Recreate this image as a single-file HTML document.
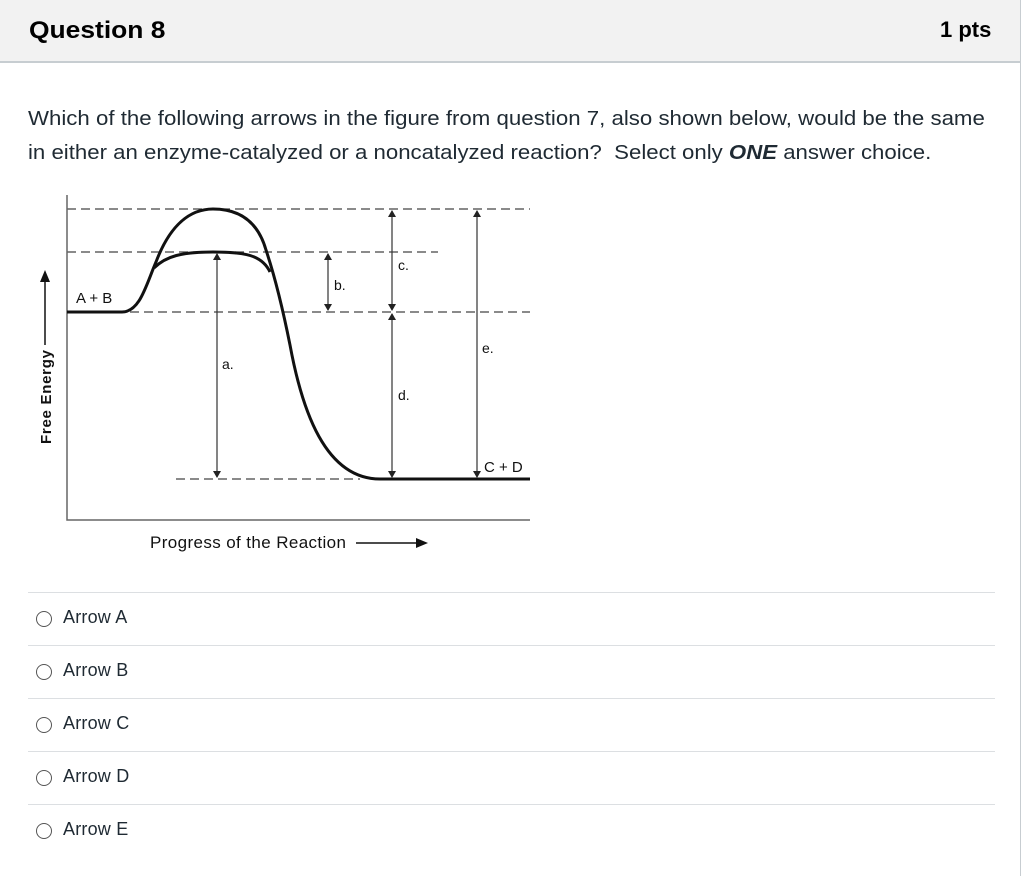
<!DOCTYPE html>
<html><head><style>
body{margin:0;width:1024px;height:876px;background:#fff;font-family:"Liberation Sans",sans-serif;overflow:hidden;position:relative;color:#1f2a33}
.hdr{position:absolute;left:0;top:0;width:1020px;height:61px;background:#f2f2f2;border-bottom:2px solid #c7cdd1;border-right:1px solid #c7cdd1}
.t{position:absolute;white-space:nowrap;transform-origin:0 0}
.opt{position:absolute;left:28px;width:967px;border-top:1px solid #dcdfe2;height:52px}
.opt .c{position:absolute;left:8px;top:18px;width:14px;height:14px;border:1.5px solid #555;border-radius:50%}
.opt span{position:absolute;left:35px;top:14px;font-size:18px;color:#1f2a33;letter-spacing:0.2px}
</style></head><body>
<div class="hdr"></div>
<div style="position:absolute;left:1020px;top:61px;width:1px;height:815px;background:#c7cdd1"></div>
<div class="t" style="left:29px;top:17px;font-size:24px;font-weight:bold;color:#000;transform:scaleX(1.1)">Question 8</div>
<div class="t" style="left:940px;top:17px;font-size:22px;font-weight:bold;color:#000">1 pts</div>
<div class="t" style="left:28px;top:108px;font-size:20px;transform:scaleX(1.112)">Which of the following arrows in the figure from question 7, also shown below, would be the same</div>
<div class="t" style="left:28px;top:142px;font-size:20px;transform:scaleX(1.11)">in either an enzyme-catalyzed or a noncatalyzed reaction?&nbsp; Select only <b><i>ONE</i></b> answer choice.</div>
<svg style="position:absolute;left:0;top:0" width="1024" height="876">
<defs><marker id="ar" markerWidth="8" markerHeight="8" refX="6" refY="4" orient="auto-start-reverse" markerUnits="userSpaceOnUse"><path d="M0,0 L7,4 L0,8 Z" fill="#222"/></marker></defs>
<g stroke="#444" stroke-width="1.2" stroke-dasharray="9,5" fill="none">
<line x1="67" y1="209" x2="530" y2="209"/>
<line x1="67" y1="252" x2="438" y2="252"/>
<line x1="130" y1="312" x2="530" y2="312"/>
<line x1="176" y1="479" x2="360" y2="479"/>
</g>
<path d="M67,195 V520 H530" stroke="#666" stroke-width="1.5" fill="none"/>
<g stroke="#111" stroke-width="3" fill="none">
<path d="M67,312 H122 C140,312 146,285 156,262 C170,225 190,209 213,209 C240,209 258,222 266,250 C276,280 283,310 290,345 C302,410 325,479 380,479 H530"/>
<path d="M154,268 C166,256 182,252 213,252 C245,252 262,255 270,272"/>
</g>
<g stroke="#333" stroke-width="1.2" marker-start="url(#ar)" marker-end="url(#ar)">
<line x1="217" y1="254" x2="217" y2="477"/>
<line x1="328" y1="254" x2="328" y2="310"/>
<line x1="392" y1="211" x2="392" y2="310"/>
<line x1="392" y1="314" x2="392" y2="477"/>
<line x1="477" y1="211" x2="477" y2="477"/>
</g>
<g font-size="14" fill="#111" font-family="Liberation Sans,sans-serif">
<text x="222" y="369">a.</text><text x="334" y="290">b.</text><text x="398" y="270">c.</text>
<text x="398" y="400">d.</text><text x="482" y="353">e.</text>
<text x="76" y="303" font-size="15">A + B</text><text x="484" y="472" font-size="15">C + D</text>
<text x="346" y="548" font-size="17" text-anchor="end" textLength="196">Progress of the Reaction</text>
<text transform="translate(51,444) rotate(-90)" font-size="15" font-weight="bold" textLength="94">Free Energy</text>
</g>
<line x1="356" y1="543" x2="420" y2="543" stroke="#111" stroke-width="1.5"/>
<path d="M416,538 L428,543 L416,548 Z" fill="#111"/>
<line x1="45" y1="345" x2="45" y2="280" stroke="#111" stroke-width="1.5"/>
<path d="M40,282 L45,270 L50,282 Z" fill="#111"/>
</svg>
<div class="opt" style="top:592px"><div class="c"></div><span>Arrow A</span></div>
<div class="opt" style="top:645px"><div class="c"></div><span>Arrow B</span></div>
<div class="opt" style="top:698px"><div class="c"></div><span>Arrow C</span></div>
<div class="opt" style="top:751px"><div class="c"></div><span>Arrow D</span></div>
<div class="opt" style="top:804px"><div class="c"></div><span>Arrow E</span></div>
</body></html>
